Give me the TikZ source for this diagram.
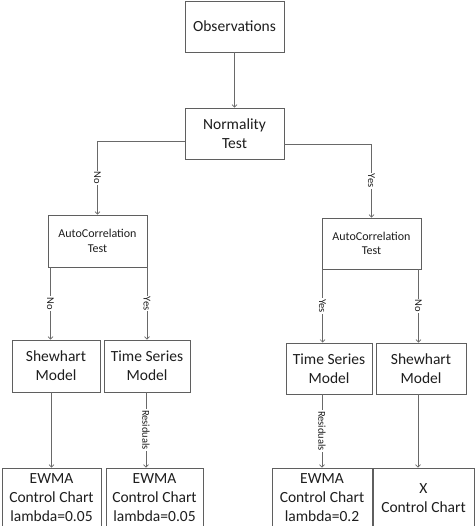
\documentclass[tikz,border=0pt]{standalone}
\usepackage{fontspec}
\setmainfont{Carlito}
\usetikzlibrary{
    arrows.meta,
    positioning
}
\definecolor{ink}{RGB}{30,30,30}
\definecolor{edge}{RGB}{95,95,95}
\definecolor{wire}{RGB}{105,105,105}
\tikzset{
    line cap=round,
    line join=round,
    stepbox/.style={
        rectangle,
        draw=edge,
        line width=0.9pt,
        fill=white,
        text=ink,
        align=center,
        inner sep=0pt,
        font=\fontsize{15.5}{19}\selectfont
    },
    testbox/.style={
        stepbox,
        font=\fontsize{12}{14.5}\selectfont
    },
    flow/.style={
        -{Straight Barb[length=2.5pt,width=5pt]},
        draw=wire,
        line width=0.7pt
    },
    flowplain/.style={
        draw=wire,
        line width=0.7pt
    },
    answer/.style={
        rotate=-90,
        fill=white,
        inner sep=1pt,
        text=ink,
        font=\fontsize{10.5}{12}\selectfont
    }
}

\begin{document}
\begin{tikzpicture}[x=1pt, y=-1pt]
\useasboundingbox (0,0) rectangle (474,526);

% Top
\node[stepbox, minimum width=99pt, minimum height=51pt] (obs) at (234.5, 26.5) {Observations};
\node[stepbox, minimum width=99pt, minimum height=51pt] (norm) at (234.5, 133.5) {Normality\\Test};

% Tests
\node[testbox, minimum width=99pt, minimum height=52pt] (acl) at (97.5, 241) {AutoCorrelation\\Test};
\node[testbox, minimum width=99pt, minimum height=51pt] (acr) at (371.5, 243.5) {AutoCorrelation\\Test};

% Models
\node[stepbox, minimum width=88pt, minimum height=52pt] (shl) at (56, 366) {Shewhart\\Model};
\node[stepbox, minimum width=86pt, minimum height=52pt] (tsl) at (147, 366) {Time Series\\Model};
\node[stepbox, minimum width=86pt, minimum height=51pt] (tsr) at (329, 368.5) {Time Series\\Model};
\node[stepbox, minimum width=90pt, minimum height=51pt] (shr) at (421, 368.5) {Shewhart\\Model};

% Charts
\node[stepbox, minimum width=99pt, minimum height=60pt] (ewl) at (51.5, 498) {EWMA\\Control Chart\\lambda=0.05};
\node[stepbox, minimum width=97pt, minimum height=60pt] (ews) at (154.5, 498) {EWMA\\Control Chart\\lambda=0.05};
\node[stepbox, minimum width=100pt, minimum height=60pt] (ewr) at (322, 498) {EWMA\\Control Chart\\lambda=0.2};
\node[stepbox, minimum width=101pt, minimum height=60pt] (xcc) at (423.5, 498) {X\\Control Chart};

% Edges
\draw[flow] (obs) -- (norm);
\draw[flow] ([yshift=-7.5pt]norm.west) -| node[answer, pos=0.75] {No} (acl.north);
\draw[flow] ([yshift=-10.5pt]norm.east) -| node[answer, pos=0.75] {Yes} (acr.north);

\draw[flow] ([xshift=3pt]acl.south west) -- node[answer] {No} ([xshift=3pt]acl.south west |- shl.north);
\draw[flow] (tsl.north |- acl.south) -- node[answer] {Yes} (tsl.north);
\draw[flow] ([xshift=1pt]acr.south west) -- node[answer] {Yes} ([xshift=1pt]acr.south west |- tsr.north);
\draw[flow] ([xshift=-3pt]acr.south east) -- node[answer] {No} ([xshift=-3pt]acr.south east |- shr.north);

\draw[flow] (ewl.north |- shl.south) -- (ewl.north);
\draw[flow] ([xshift=-1pt]tsl.south) -- node[answer] {Residuals} ([xshift=-1pt]tsl.south |- ews.north);
\draw[flow] (ewr.north |- tsr.south) -- node[answer] {Residuals} (ewr.north);
\draw[flow] ([xshift=-3pt]shr.south) -- ([xshift=-3pt]shr.south |- xcc.north);
\end{tikzpicture}
\end{document}
